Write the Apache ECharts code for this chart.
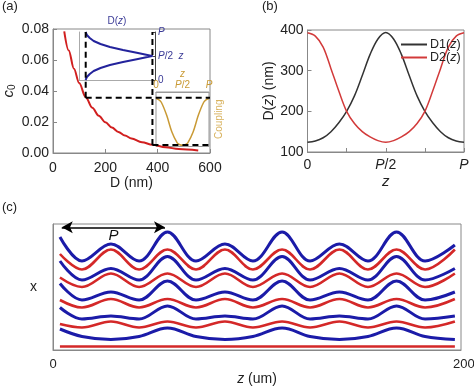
<!DOCTYPE html>
<html>
<head>
<meta charset="utf-8">
<script src="https://cdn.jsdelivr.net/npm/echarts@6/dist/echarts.min.js"></script>
<style>
  html, body { margin: 0; padding: 0; background: #fff; }
  #chart { width: 474px; height: 386px; }
</style>
</head>
<body>
<div id="chart"></div>
<script>
// (a) coupling coefficient vs spacing
var dNm = [43, 60, 80, 100, 125, 150, 175, 200, 225, 250, 275, 300, 340, 380, 430, 480, 555];
var c0Vals = [0.0785, 0.0662, 0.0544, 0.0451, 0.0360, 0.0292, 0.0240, 0.0198, 0.0164, 0.0136, 0.0113, 0.0094, 0.0070, 0.0053, 0.0037, 0.0026, 0.0016];
// dashed guides (D, c0)
var guideD = [125, 380];
var guideC0 = [0.0357, 0.0052];
var guideTop = 0.078;
// inset D(z), z in units of P
var insetZ = [0, 0.0625, 0.125, 0.1875, 0.25, 0.3125, 0.375, 0.4375, 0.5, 0.5625, 0.625, 0.6875, 0.75, 0.8125, 0.875, 0.9375, 1];
var insetD = [125, 130, 141, 156, 182, 218, 268, 325, 379, 325, 268, 218, 182, 156, 141, 130, 125];
// inset coupling(z)
var coupZ = [0, 0.05, 0.1, 0.2, 0.3, 0.4, 0.45, 0.5, 0.55, 0.6, 0.7, 0.8, 0.9, 0.95, 1];
var coupVals = [0.0352, 0.0345, 0.0328, 0.0245, 0.0135, 0.0065, 0.0053, 0.0050, 0.0053, 0.0065, 0.0135, 0.0245, 0.0328, 0.0345, 0.0352];

// (b) D1(z), D2(z)
var zFrac = [0, 0.05, 0.1, 0.15, 0.2, 0.25, 0.3, 0.35, 0.4, 0.45, 0.5, 0.55, 0.6, 0.65, 0.7, 0.75, 0.8, 0.85, 0.9, 0.95, 1];
var d1Vals = [124, 127, 135, 150, 172, 200, 238, 288, 340, 378, 394, 378, 340, 288, 238, 200, 172, 150, 135, 127, 124];
var d2Vals = [393, 385, 358, 305, 250, 200, 170, 150, 137, 128, 124, 128, 137, 150, 170, 200, 250, 305, 358, 385, 393];

// (c) waveguide positions x(z), sampled at peaks and valleys
var zUm = [34, 142, 284, 422, 561, 701, 843, 980, 1123, 1260, 1404, 1544, 1684, 1824, 1970];
var xB1 = [113, 89, 106, 89, 118, 89, 106, 89, 118, 89, 106, 89, 118, 89, 105];
var xR1 = [96, 80.5, 100.5, 80.5, 100.5, 80.5, 100.5, 80.5, 100.5, 80.5, 100.5, 80.5, 100.5, 80.5, 100.5];
var xB2 = [89, 70, 81.5, 70, 93.5, 70, 81.5, 70, 93.5, 70, 81.5, 70, 93.5, 70, 81.5];
var xR2 = [72.5, 63, 76.5, 63, 76.5, 63, 76.5, 63, 76.5, 63, 76.5, 63, 76.5, 63, 76.5];
var xB3 = [66.5, 50, 58, 50, 69, 50, 58, 50, 69, 50, 58, 50, 69, 50, 58];
var xR3 = [50, 42.5, 51, 42.5, 51, 42.5, 51, 42.5, 51, 42.5, 51, 42.5, 51, 42.5, 51];
var xB4 = [42.5, 31, 34, 31, 44, 31, 34, 31, 44, 31, 34, 31, 44, 31, 34];
var xR4 = [26, 22.5, 28.5, 22.5, 28.5, 22.5, 28.5, 22.5, 28.5, 22.5, 28.5, 22.5, 28.5, 22.5, 28.5];
var xB5 = [21, 13.5, 10.5, 13.5, 22, 13.5, 10.5, 13.5, 22, 13.5, 10.5, 13.5, 22, 13.5, 10.5];
var xR5 = [3.5, 3.5, 3.5, 3.5, 3.5, 3.5, 3.5, 3.5, 3.5, 3.5, 3.5, 3.5, 3.5, 3.5, 3.5];
var periodArrow = [43, 549, 122.7]; // z start, z end, x level

var FONT = 'Liberation Sans';
var BLUE = '#1b1ba8', RED = '#d42828', GOLD = '#c99a35', INK = '#3a3a96';

function pairs(xs, ys) {
    return xs.map(function (x, i) { return [x, ys[i]]; });
}

var frameAxis = {
    axisLine: { lineStyle: { color: '#888' } },
    axisTick: { inside: true, length: 4, lineStyle: { color: '#888' } },
    splitLine: { show: false },
    axisLabel: { color: '#222', fontSize: 14, fontFamily: FONT }
};
function ax(extra) {
    return Object.assign({}, JSON.parse(JSON.stringify(frameAxis)), extra);
}

var series = [];
// (a) main curve
series.push({
    type: 'line', xAxisIndex: 0, yAxisIndex: 0, data: pairs(dNm, c0Vals),
    smooth: 0.35, smoothMonotone: 'x', symbol: 'none', lineStyle: { color: '#d11f1f', width: 2 }, z: 3
});
// dashed guides
for (var i = 0; i < guideD.length; i++) {
    var dash = { color: '#000', width: 2, type: [6, 4] };
    series.push({
        type: 'line', xAxisIndex: 0, yAxisIndex: 0, symbol: 'none', z: 10,
        data: [[guideD[i], guideC0[i]], [guideD[i], guideTop]], lineStyle: dash
    });
    series.push({
        type: 'line', xAxisIndex: 0, yAxisIndex: 0, symbol: 'none', z: 10,
        data: [[guideD[i], guideC0[i]], [600, guideC0[i]]], lineStyle: dash
    });
}
// inset D(z)
series.push({
    type: 'line', xAxisIndex: 1, yAxisIndex: 1, data: pairs(insetD, insetZ),
    smooth: false, symbol: 'none', lineStyle: { color: '#23239c', width: 2, join: 'round' }
});
// inset coupling
series.push({
    type: 'line', xAxisIndex: 2, yAxisIndex: 3, data: pairs(coupZ, coupVals),
    smooth: 0.35, symbol: 'none', lineStyle: { color: GOLD, width: 1.5 }
});
// (b)
series.push({
    name: 'D1', type: 'line', xAxisIndex: 3, yAxisIndex: 4, data: pairs(zFrac, d1Vals),
    smooth: 0.35, symbol: 'none', lineStyle: { color: '#333', width: 1.5 }, itemStyle: { color: '#333' }
});
series.push({
    name: 'D2', type: 'line', xAxisIndex: 3, yAxisIndex: 4, data: pairs(zFrac, d2Vals),
    smooth: 0.35, symbol: 'none', lineStyle: { color: '#d23a3a', width: 1.5 }, itemStyle: { color: '#d23a3a' }
});
// (c)
var waveguides = [
    [xB1, BLUE], [xR1, RED], [xB2, BLUE], [xR2, RED], [xB3, BLUE],
    [xR3, RED], [xB4, BLUE], [xR4, RED], [xB5, BLUE], [xR5, RED]
];
waveguides.forEach(function (w, k) {
    series.push({
        type: 'line', xAxisIndex: 4, yAxisIndex: 5, data: pairs(zUm, w[0]),
        smooth: 0.36, symbol: 'none',
        lineStyle: { color: w[1], width: w[1] === BLUE ? 3 : 2.6 },
        markLine: k === 0 ? {
            silent: true, symbol: ['arrow', 'arrow'], symbolSize: [9, 11],
            lineStyle: { color: '#000', width: 1.5, type: 'solid' },
            label: {
                show: true, position: 'insideMiddleBottom', formatter: 'P',
                fontStyle: 'italic', fontSize: 15, color: '#111', fontFamily: FONT, distance: 1
            },
            data: [[{ coord: [periodArrow[0], periodArrow[2]] }, { coord: [periodArrow[1], periodArrow[2]] }]]
        } : undefined
    });
});

var option = {
    animation: false,
    backgroundColor: '#fff',
    textStyle: { fontFamily: FONT },
    graphic: [
        { type: 'text', left: 2, top: 0, style: { text: '(a)', fontSize: 13, fill: '#222', fontFamily: FONT } },
        { type: 'text', left: 262, top: 0, style: { text: '(b)', fontSize: 13, fill: '#222', fontFamily: FONT } },
        { type: 'text', left: 2, top: 201, style: { text: '(c)', fontSize: 13, fill: '#222', fontFamily: FONT } }
    ],
    legend: {
        data: ['D1', 'D2'], orient: 'vertical', left: 396, top: 33,
        icon: 'rect', itemWidth: 26, itemHeight: 2, itemGap: 0,
        textStyle: {
            fontSize: 12.5, color: '#222', fontFamily: FONT, padding: [0, 0, 0, -2],
            rich: { i: { fontStyle: 'italic', fontSize: 12.5, fontFamily: FONT, color: '#222' } }
        },
        formatter: function (name) { return name + '({i|z})'; }
    },
    grid: [
        { left: 53, top: 29, width: 157, height: 124, show: true, borderColor: '#888', borderWidth: 1, outerBoundsMode: 'none' },
        { left: 79, top: 32, width: 76, height: 48, outerBoundsMode: 'none' },
        { left: 156, top: 92, width: 53, height: 54.5, show: true, borderColor: '#999', borderWidth: 1, outerBoundsMode: 'none' },
        { left: 307.5, top: 30, width: 156.5, height: 122, show: true, borderColor: '#888', borderWidth: 1, outerBoundsMode: 'none' },
        { left: 53, top: 224, width: 408, height: 126, show: true, borderColor: '#888', borderWidth: 1, outerBoundsMode: 'none' }
    ],
    xAxis: [
        ax({
            gridIndex: 0, type: 'value', min: 0, max: 600, interval: 200,
            name: 'D (nm)', nameLocation: 'middle', nameGap: 22,
            nameTextStyle: { fontSize: 14, color: '#222' }
        }),
        {
            gridIndex: 1, type: 'value', min: 100, max: 390, position: 'top',
            axisLine: { lineStyle: { color: '#aaa' } }, axisTick: { show: false },
            axisLabel: { show: false }, splitLine: { show: false },
            name: 'D({i|z})', nameLocation: 'middle', nameGap: 6,
            nameTextStyle: { fontSize: 10, color: INK, rich: { i: { fontStyle: 'italic', fontSize: 10, color: INK } } }
        },
        {
            gridIndex: 2, type: 'value', min: 0, max: 1, interval: 0.5, position: 'top',
            axisLine: { lineStyle: { color: '#999' } }, axisTick: { show: false }, splitLine: { show: false },
            axisLabel: {
                fontSize: 10, color: GOLD, margin: 2,
                rich: { i: { fontStyle: 'italic', fontSize: 10, color: GOLD } },
                formatter: function (v) { return v === 0 ? '0' : (v === 0.5 ? '{i|P}/2' : '{i|P}'); }
            },
            name: '{i|z}', nameLocation: 'middle', nameGap: 12,
            nameTextStyle: { rich: { i: { fontStyle: 'italic', fontSize: 10, color: GOLD } } }
        },
        ax({
            gridIndex: 3, type: 'value', min: 0, max: 1, interval: 0.25,
            axisLabel: {
                color: '#222', fontSize: 14, margin: 6,
                rich: { i: { fontStyle: 'italic', fontSize: 14, color: '#222' } },
                formatter: function (v) {
                    if (v === 0) return '0';
                    if (v === 0.5) return '{i|P}/2';
                    if (v === 1) return '{i|P}';
                    return '';
                }
            },
            name: '{i|z}', nameLocation: 'middle', nameGap: 22,
            nameTextStyle: { rich: { i: { fontStyle: 'italic', fontSize: 15, color: '#222' } } }
        }),
        ax({
            gridIndex: 4, type: 'value', min: 0, max: 2000, interval: 2000,
            axisTick: { show: false },
            axisLabel: {
                color: '#222', fontSize: 13, margin: 8,
                rich: { r: { fontSize: 13, color: '#222', width: 42, align: 'right' } },
                formatter: function (v) { return v === 0 ? '0' : '{r|' + v + '}'; }
            },
            name: '{i|z} (um)', nameLocation: 'middle', nameGap: 21,
            nameTextStyle: { fontSize: 14, color: '#222', rich: { i: { fontStyle: 'italic', fontSize: 14, color: '#222' } } }
        })
    ],
    yAxis: [
        ax({
            gridIndex: 0, type: 'value', min: 0, max: 0.08, interval: 0.02,
            axisLabel: { color: '#222', fontSize: 14, margin: 4, formatter: function (v) { return v.toFixed(2); } },
            name: '{i|c}{s|0}', nameLocation: 'middle', nameGap: 36,
            nameTextStyle: {
                rich: {
                    i: { fontStyle: 'italic', fontSize: 15, color: '#222' },
                    s: { fontSize: 10, color: '#222', padding: [7, 0, 0, 0] }
                }
            }
        }),
        {
            gridIndex: 1, type: 'value', min: 0, max: 1, interval: 0.5, position: 'right',
            axisLine: { lineStyle: { color: '#444' } },
            axisTick: { inside: true, length: 2, lineStyle: { color: '#444' } },
            splitLine: { show: false },
            axisLabel: {
                fontSize: 10, color: INK, margin: 3,
                rich: { i: { fontStyle: 'italic', fontSize: 10, color: INK } },
                formatter: function (v) { return v === 0 ? '0' : (v === 0.5 ? '{i|P}/2  {i|z}' : '{i|P}'); }
            }
        },
        {
            gridIndex: 1, type: 'value', min: 0, max: 1, position: 'left',
            axisLine: { lineStyle: { color: '#aaa' } }, axisTick: { show: false },
            axisLabel: { show: false }, splitLine: { show: false }
        },
        {
            gridIndex: 2, type: 'value', min: 0.0042, max: 0.0394, position: 'right',
            axisLine: { show: false }, axisTick: { show: false }, axisLabel: { show: false }, splitLine: { show: false },
            name: 'Coupling', nameLocation: 'middle', nameGap: 5, nameRotate: 90,
            nameTextStyle: { fontSize: 10, color: '#d8b25e', verticalAlign: 'top' }
        },
        ax({
            gridIndex: 3, type: 'value', min: 100, max: 400, interval: 100,
            axisLabel: { color: '#222', fontSize: 14, margin: 4 },
            name: 'D({i|z}) (nm)', nameLocation: 'middle', nameGap: 29,
            nameTextStyle: { fontSize: 14, color: '#222', rich: { i: { fontStyle: 'italic', fontSize: 14, color: '#222' } } }
        }),
        ax({
            gridIndex: 4, type: 'value', min: 0, max: 126,
            axisTick: { show: false }, axisLabel: { show: false },
            name: 'x', nameLocation: 'middle', nameGap: 16, nameRotate: 0,
            nameTextStyle: { fontSize: 14, color: '#222' }
        })
    ],
    series: series
};

var myChart = echarts.init(document.getElementById('chart'), null, { renderer: 'canvas' });
myChart.setOption(option);
window.onresize = myChart.resize;
</script>
</body>
</html>
